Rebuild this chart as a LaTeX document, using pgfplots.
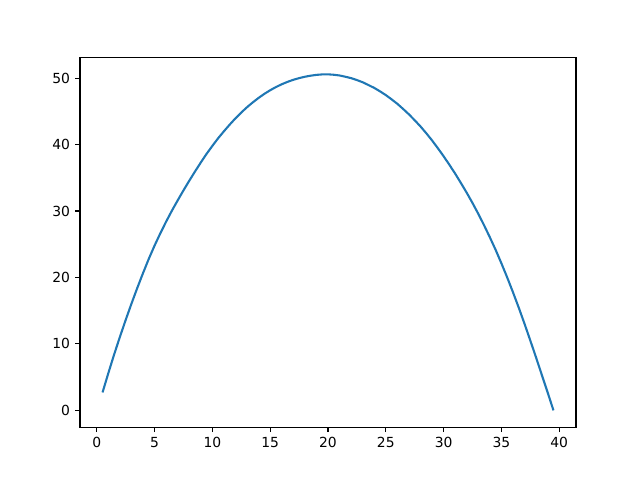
\documentclass[border=0pt]{standalone}
\usepackage{pgfplots}
\pgfplotsset{compat=1.18}
\usepackage{fontspec}
\setmainfont{DejaVu Sans}
\definecolor{mplblue}{HTML}{1F77B4}

\begin{document}
\begin{tikzpicture}
% figure frame: 640x480 px at 100 dpi (1px = 0.72pt)
\useasboundingbox (-57.6pt,-38.016pt) rectangle (403.2pt,307.584pt);
\begin{axis}[
  at={(0pt,0pt)}, anchor=south west,
  width=357.12pt, height=266.112pt, scale only axis,
  xmin=-1.45, xmax=41.45, ymin=-2.53, ymax=53.08,
  xtick={0,5,...,40}, ytick={0,10,...,50},
  tick align=outside, tick pos=left,
  major tick length=3.5pt,
  every tick/.style={black, line width=0.8pt},
  axis line style={line width=0.8pt},
  tick label style={font=\fontsize{10}{12}\selectfont, inner sep=0pt},
  xticklabel style={yshift=-3.5pt},
  yticklabel style={xshift=-3.5pt},
  /pgf/number format/assume math mode=true,
  ]
\addplot[mplblue, line width=1.5pt, line join=round] coordinates {
  (0.5,2.7) (1.0,5.6) (1.5,8.4) (2.0,11.05) (2.5,13.6)
  (3.0,16.05) (3.5,18.4) (4.0,20.65) (4.5,22.8) (5.0,24.8)
  (5.5,26.65) (6.0,28.4) (6.5,30.05) (7.0,31.6) (7.5,33.1)
  (8.0,34.55) (8.5,35.95) (9.0,37.3) (9.5,38.6) (10.0,39.8)
  (10.5,40.95) (11.0,42.0) (11.5,43.0) (12.0,43.95) (12.5,44.82)
  (13.0,45.62) (13.5,46.35) (14.0,47.02) (14.5,47.63) (15.0,48.17)
  (15.5,48.65) (16.0,49.07) (16.5,49.43) (17.0,49.74) (17.5,49.99)
  (18.0,50.2) (18.5,50.36) (19.0,50.48) (19.5,50.55) (20.0,50.56)
  (20.5,50.5) (21.0,50.39) (21.5,50.2) (22.0,49.99) (22.5,49.7)
  (23.0,49.37) (23.5,48.95) (24.0,48.52) (24.5,48.0) (25.0,47.44)
  (25.5,46.8) (26.0,46.12) (26.5,45.35) (27.0,44.54) (27.5,43.65)
  (28.0,42.72) (28.5,41.7) (29.0,40.62) (29.5,39.45) (30.0,38.24)
  (30.5,36.95) (31.0,35.62) (31.5,34.2) (32.0,32.74) (32.5,31.2)
  (33.0,29.57) (33.5,27.85) (34.0,26.04) (34.5,24.15) (35.0,22.12)
  (35.5,20.0) (36.0,17.77) (36.5,15.45) (37.0,13.02) (37.5,10.5)
  (38.0,7.94) (38.5,5.3) (39.0,2.69) (39.5,0)
};
\end{axis}
\end{tikzpicture}
\end{document}
